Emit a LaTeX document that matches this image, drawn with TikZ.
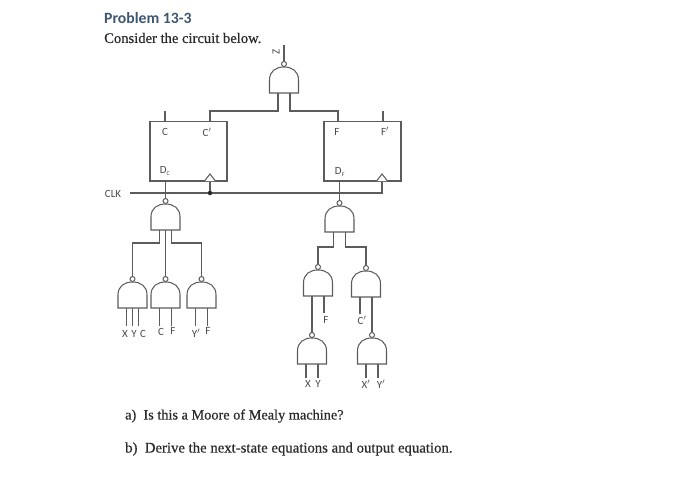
\documentclass[tikz,border=0pt]{standalone}
\usepackage{fontspec}
\setmainfont{Liberation Serif}
\newfontfamily\labelfont{Carlito}
\newfontfamily\prosefont[FakeBold=0.5]{Liberation Serif}
\definecolor{wireColor}{HTML}{5C5C5C}
\definecolor{titleColor}{HTML}{3F5672}
\definecolor{textColor}{HTML}{2B2B2B}
\definecolor{labelColor}{HTML}{4A4A4A}
\tikzset{
  pics/nandgate/.style={code={
    \draw[wire] (-14.5,29) -- (-14.5,16) .. controls (-14.5,7) and (-8,3) .. (0,3) .. controls (8,3) and (14.5,7) .. (14.5,16) -- (14.5,29) -- cycle;
    \node[bubble] (-out) at (0,0) {};
    \coordinate (-a) at (-6,29);
    \coordinate (-b) at (0,29);
    \coordinate (-c) at (6,29);
    \coordinate (-ea) at (-6,29+#1);
    \coordinate (-eb) at (0,29+#1);
    \coordinate (-ec) at (6,29+#1);
  }}
}
\begin{document}
\begin{tikzpicture}[x=1pt,y=-1pt]

            \tikzstyle{wire} = [line width=1.05pt, wireColor];
            \tikzstyle{bubble} = [circle, draw=wireColor, line width=1pt, fill=white, inner sep=0pt, minimum size=5pt];
            \tikzstyle{flipflop} = [draw=wireColor, line width=1.05pt, minimum width=77pt, minimum height=59.5pt, inner sep=0pt];
            \tikzstyle{pinLabel} = [font=\labelfont\fontsize{11}{12}\selectfont, text=labelColor, inner sep=0pt];
            \tikzstyle{prose} = [font=\prosefont\fontsize{14.6}{16}\selectfont, text=textColor, anchor=west, inner sep=0pt];

            \useasboundingbox (0,0) rectangle (700,500);

            % text
            \node[anchor=west, inner sep=0pt, text=titleColor, font=\labelfont\bfseries\fontsize{15.7}{20}\selectfont] (title) at (104,18) {Problem 13-3};
            \node[prose] (intro) at (104,38) {Consider the circuit below.};
            \node[prose, font=\prosefont\fontsize{14.3}{16}\selectfont] (qa) at (125,416) {a)\ \ Is this a Moore of Mealy machine?};
            \node[prose, font=\prosefont\fontsize{14.75}{16}\selectfont] (qb) at (125,449) {b)\ \ Derive the next-state equations and output equation.};

            % flip flops
            \node[flipflop] (ffc) at (188.5,151.25) {};
            \node[flipflop] (fff) at (362.5,151.25) {};

            \coordinate (qc) at (165,121.5);
            \coordinate (qcn) at (210,121.5);
            \coordinate (qf) at (338,121.5);
            \coordinate (qfn) at (383,121.5);
            \coordinate (qce) at (165,111);
            \coordinate (qfe) at (383,111);
            \coordinate (dc) at (165.5,181);
            \coordinate (df) at (339.5,181);
            \coordinate (ckc) at (210,181);
            \coordinate (ckf) at (382,181);
            \coordinate (clkin) at (130,193);
            \coordinate (ze) at (284,45);

            \node[pinLabel] (lc) at (165,132) {C};
            \node[pinLabel] (lcn) at (207,132) {C$'$};
            \node[pinLabel] (lf) at (337,132) {F};
            \node[pinLabel] (lfn) at (385,131) {F$'$};
            \node[pinLabel] (ldc) at (165,171) {D\textsubscript{\fontsize{6}{6}\selectfont C}};
            \node[pinLabel] (ldf) at (340,172) {D\textsubscript{\fontsize{6}{6}\selectfont F}};
            \node[pinLabel, rotate=90] (lz) at (276,52) {Z};
            \node[pinLabel] (lclk) at (113,194) {CLK};

            % gates
            \pic (gz) at (284,64) {nandgate=18};
            \pic (gdc) at (165.5,201) {nandgate=18};
            \pic (gdf) at (339.5,203) {nandgate=18};
            \pic (ga) at (132.5,279) {nandgate=18};
            \pic (gb) at (165.5,279) {nandgate=18};
            \pic (gc) at (201.5,279) {nandgate=18};
            \pic (gd) at (318,267) {nandgate=17};
            \pic (ge) at (366,268) {nandgate=17};
            \pic (gf) at (312,335) {nandgate=14};
            \pic (gg) at (372,335) {nandgate=14};

            % wires
            \draw[wire] (gz-out) -- (ze);
            \draw[wire] (gz-a) -- ++(0,18) -| (qcn);
            \draw[wire] (gz-c) -- ++(0,18) -| (qf);
            \draw[wire] (qc) -- (qce);
            \draw[wire] (qfn) -- (qfe);
            \draw[wire] (dc) -- (gdc-out);
            \draw[wire] (df) -- (gdf-out);
            \draw[wire] (clkin) -| (ckf);
            \node[circle, fill=black!85, inner sep=0pt, minimum size=4.5pt] (clkdot) at (210,193) {};
            \draw[wire] (clkdot) -- (ckc);
            \foreach \ck in {ckc,ckf}
              \draw[wire, fill=white] (\ck) ++(-5.5,0) -- ++(5.5,-7) -- ++(5.5,7);

            \draw[wire] (gdc-a) -- ++(0,13) -| (ga-out);
            \draw[wire] (gdc-b) -- (gb-out);
            \draw[wire] (gdc-c) -- ++(0,13) -| (gc-out);
            \draw[wire] (gdf-a) -- ++(0,15) -| (gd-out);
            \draw[wire] (gdf-c) -- ++(0,15) -| (ge-out);
            \draw[wire] (gd-a) -- (gf-out);
            \draw[wire] (ge-c) -- (gg-out);

            \foreach \g/\p in {ga/a,ga/b,ga/c,gb/a,gb/c,gc/a,gc/c,gf/a,gf/c,gg/a,gg/c,gd/c,ge/a}
              \draw[wire] (\g-\p) -- (\g-e\p);

            % input names
            \foreach \n/\x/\y/\t in {i1/125/334/X, i2/134/334/Y, i3/143/334/C, i4/161/332/C, i5/173/331/F, i6/196/333/Y$'$, i7/208/331/F, i8/326/320/F, i9/362/320/C$'$, i10/308/384/X, i11/318/384/Y, i12/366/384/X$'$, i13/381/384/Y$'$}
              \node[pinLabel] (\n) at (\x,\y) {\t};

\end{tikzpicture}
\end{document}
